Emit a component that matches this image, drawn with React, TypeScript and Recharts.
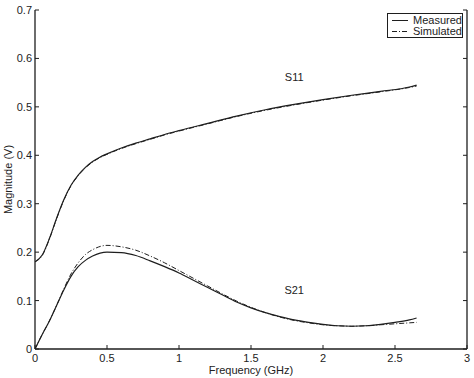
import React from 'react';
import { LineChart, Line, XAxis, YAxis, Legend, ReferenceDot } from 'recharts';

const freqS11 = [0, 0.05, 0.1, 0.15, 0.2, 0.25, 0.3, 0.35, 0.4, 0.45, 0.5, 0.6, 0.7, 0.8, 0.9, 1.0, 1.2, 1.4, 1.6, 1.8, 2.0, 2.2, 2.4, 2.6, 2.65];
const s11Measured = [0.18, 0.194, 0.228, 0.27, 0.308, 0.338, 0.359, 0.375, 0.387, 0.396, 0.403, 0.415, 0.425, 0.434, 0.443, 0.451, 0.466, 0.481, 0.494, 0.505, 0.515, 0.524, 0.532, 0.541, 0.545];
const s11Simulated = [0.18, 0.193, 0.227, 0.269, 0.307, 0.337, 0.358, 0.374, 0.386, 0.395, 0.402, 0.414, 0.424, 0.433, 0.442, 0.45, 0.465, 0.48, 0.493, 0.504, 0.514, 0.523, 0.531, 0.54, 0.543];

const freqS21 = [0, 0.05, 0.1, 0.15, 0.2, 0.25, 0.3, 0.35, 0.4, 0.5, 0.6, 0.7, 0.8, 0.9, 1.0, 1.1, 1.2, 1.3, 1.4, 1.5, 1.6, 1.7, 1.8, 1.9, 2.0, 2.1, 2.2, 2.3, 2.4, 2.5, 2.6, 2.65];
const s21Measured = [0, 0.03, 0.058, 0.09, 0.122, 0.15, 0.17, 0.183, 0.192, 0.2, 0.199, 0.193, 0.182, 0.17, 0.157, 0.142, 0.127, 0.112, 0.097, 0.085, 0.075, 0.067, 0.06, 0.055, 0.051, 0.048, 0.047, 0.048, 0.051, 0.055, 0.06, 0.064];
const s21Simulated = [0, 0.03, 0.058, 0.09, 0.124, 0.155, 0.178, 0.195, 0.205, 0.214, 0.211, 0.204, 0.192, 0.178, 0.162, 0.146, 0.13, 0.114, 0.099, 0.086, 0.075, 0.066, 0.059, 0.054, 0.05, 0.048, 0.047, 0.048, 0.05, 0.052, 0.054, 0.055];

const xTicks = [0, 0.5, 1, 1.5, 2, 2.5, 3];
const yTicks = [0, 0.1, 0.2, 0.3, 0.4, 0.5, 0.6, 0.7];
const xTickLabels = ['0', '0.5', '1', '1.5', '2', '2.5', '3'];
const yTickLabels = ['0', '0.1', '0.2', '0.3', '0.4', '0.5', '0.6', '0.7'];

const seriesNames = ['Measured', 'Simulated'];
const curveLabels = [
  { text: 'S11', f: 1.8, v: 0.561 },
  { text: 'S21', f: 1.8, v: 0.122 },
];

const toPoints = (xs: number[], ys: number[]) => xs.map((f, i) => ({ f, v: ys[i] }));

const INK = '#1e1e1e';
const FONT = 'Liberation Sans, Arial, Helvetica, sans-serif';
const TL = 4;

const BottomTick = (props: any) => {
  const { x, y, payload } = props;
  const idx = xTicks.indexOf(payload.value);
  return (
    <g>
      <line x1={x} y1={y} x2={x} y2={y - TL} stroke={INK} strokeWidth={1} />
      <text x={x} y={y + 13} textAnchor="middle" fontSize={11} fill="#222" fontFamily={FONT}>
        {idx >= 0 ? xTickLabels[idx] : payload.value}
      </text>
    </g>
  );
};

const TopTick = (props: any) => {
  const { x, y } = props;
  return <line x1={x} y1={y} x2={x} y2={y + TL} stroke={INK} strokeWidth={1} />;
};

const LeftTick = (props: any) => {
  const { x, y, payload } = props;
  const idx = yTicks.indexOf(payload.value);
  return (
    <g>
      <line x1={x} y1={y} x2={x + TL} y2={y} stroke={INK} strokeWidth={1} />
      <text x={x - 3} y={y + 4} textAnchor="end" fontSize={11} fill="#222" fontFamily={FONT}>
        {idx >= 0 ? yTickLabels[idx] : payload.value}
      </text>
    </g>
  );
};

const RightTick = (props: any) => {
  const { x, y } = props;
  return <line x1={x} y1={y} x2={x - TL} y2={y} stroke={INK} strokeWidth={1} />;
};

const LegendBox = () => (
  <div
    style={{
      width: 74,
      height: 23,
      border: `1px solid ${INK}`,
      background: '#fff',
      fontFamily: FONT,
      fontSize: 11,
      color: '#222',
      lineHeight: '11px',
      boxSizing: 'content-box',
    }}
  >
    {seriesNames.map((name, i) => (
      <div key={name} style={{ display: 'flex', alignItems: 'center', height: 11, marginTop: i === 0 ? 1 : 0 }}>
        <svg width={23} height={11} style={{ display: 'block' }}>
          <line
            x1={4}
            y1={5.5}
            x2={20}
            y2={5.5}
            stroke={INK}
            strokeWidth={1}
            strokeDasharray={i === 0 ? undefined : '5 2 1 2'}
          />
        </svg>
        <span style={{ marginLeft: 2 }}>{name}</span>
      </div>
    ))}
  </div>
);

export default function App() {
  return (
    <div style={{ position: 'absolute', left: 0, top: 0, width: 474, height: 378, background: '#fff' }}>
      <LineChart width={474} height={378} margin={{ top: 10, right: 0, bottom: 0, left: 0 }}>
        <XAxis
          xAxisId="b"
          dataKey="f"
          type="number"
          domain={[0, 3]}
          ticks={xTicks}
          allowDataOverflow
          height={29}
          tickSize={0}
          tickMargin={0}
          tickLine={false}
          tick={<BottomTick />}
          axisLine={{ stroke: INK, strokeWidth: 1.3 }}
          label={{ value: 'Frequency (GHz)', position: 'insideBottom', offset: 4, fontSize: 11, fill: '#222', fontFamily: FONT }}
        />
        <XAxis
          xAxisId="t"
          orientation="top"
          type="number"
          domain={[0, 3]}
          ticks={xTicks}
          allowDataOverflow
          height={0}
          tickSize={0}
          tickMargin={0}
          tickLine={false}
          tick={<TopTick />}
          axisLine={{ stroke: INK, strokeWidth: 1.3 }}
        />
        <YAxis
          yAxisId="l"
          type="number"
          domain={[0, 0.7]}
          ticks={yTicks}
          allowDataOverflow
          width={35}
          tickSize={0}
          tickMargin={0}
          tickLine={false}
          tick={<LeftTick />}
          axisLine={{ stroke: INK, strokeWidth: 1.3 }}
          label={{ value: 'Magnitude (V)', angle: -90, position: 'insideLeft', offset: 8, style: { textAnchor: 'middle' }, fontSize: 11, fill: '#222', fontFamily: FONT }}
        />
        <YAxis
          yAxisId="r"
          orientation="right"
          type="number"
          domain={[0, 0.7]}
          ticks={yTicks}
          allowDataOverflow
          width={7}
          tickSize={0}
          tickMargin={0}
          tickLine={false}
          tick={<RightTick />}
          axisLine={{ stroke: INK, strokeWidth: 1.3 }}
        />
        <Line xAxisId="b" yAxisId="l" data={toPoints(freqS11, s11Measured)} dataKey="v" name="Measured" type="monotone" stroke={INK} strokeWidth={1.2} dot={false} isAnimationActive={false} legendType="none" />
        <Line xAxisId="b" yAxisId="l" data={toPoints(freqS11, s11Simulated)} dataKey="v" name="Simulated" type="monotone" stroke={INK} strokeWidth={1} strokeDasharray="5 2 1 2" dot={false} isAnimationActive={false} legendType="none" />
        <Line xAxisId="b" yAxisId="l" data={toPoints(freqS21, s21Measured)} dataKey="v" name="Measured" type="monotone" stroke={INK} strokeWidth={1.2} dot={false} isAnimationActive={false} legendType="none" />
        <Line xAxisId="b" yAxisId="l" data={toPoints(freqS21, s21Simulated)} dataKey="v" name="Simulated" type="monotone" stroke={INK} strokeWidth={1} strokeDasharray="5 2 1 2" dot={false} isAnimationActive={false} legendType="none" />
        {curveLabels.map((c) => (
          <ReferenceDot
            key={c.text}
            xAxisId="b"
            yAxisId="l"
            x={c.f}
            y={c.v}
            r={0}
            stroke="none"
            fill="none"
            label={{ value: c.text, position: 'center', fontSize: 11, fill: '#222', fontFamily: FONT }}
          />
        ))}
        <Legend
          layout="horizontal"
          verticalAlign="middle"
          align="center"
          content={<LegendBox />}
          wrapperStyle={{ left: 387, top: 13, width: 76, height: 25 }}
        />
      </LineChart>
    </div>
  );
}
